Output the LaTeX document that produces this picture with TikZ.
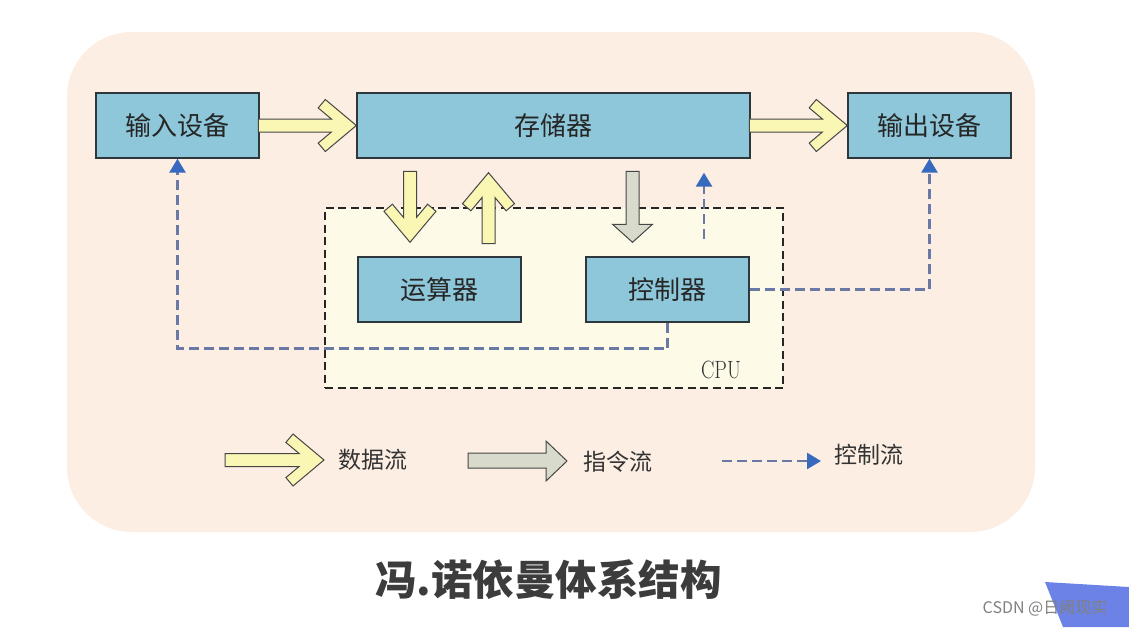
\documentclass[tikz,border=0pt]{standalone}
\usepackage{fontspec}
\usetikzlibrary{arrows.meta,calc}
\newfontfamily\cjk{Noto Sans CJK SC}
\definecolor{bgpeach}{RGB}{252,238,227}
\definecolor{cpufill}{RGB}{253,251,231}
\definecolor{boxfill}{RGB}{141,199,217}
\definecolor{boxline}{RGB}{45,55,60}
\definecolor{datafill}{RGB}{250,246,180}
\definecolor{instrfill}{RGB}{216,218,203}
\definecolor{arrline}{RGB}{70,70,70}
\definecolor{ctrlline}{RGB}{105,120,165}
\definecolor{ctrlhead}{RGB}{55,105,190}
\definecolor{titlecol}{RGB}{60,60,60}
\definecolor{wmblue}{RGB}{108,130,230}
\newcommand\dataarrow[3]{%
  \draw[dataflow, shift={(#1)}, rotate=#2] (-#3,-6.5) -- (-24.9,-6.5) -- (-38.1,-17.6) -- (-31,-26) -- (0,0)
    -- (-31,26) -- (-38.1,17.6) -- (-24.9,6.5) -- (-#3,6.5) -- cycle;}
\newcommand\instrarrow[3]{%
  \draw[instrflow, shift={(#1)}, rotate=#2] (-#3,-6.5) -- (-18,-6.5) -- (-18,-20) -- (0,0)
    -- (-18,20) -- (-18,6.5) -- (-#3,6.5) -- cycle;}
\begin{document}
\begin{tikzpicture}[x=1pt,y=-1pt,
  box/.style={draw=boxline, line width=1.4pt, fill=boxfill, minimum height=65pt, inner sep=0pt,
    font=\cjk\fontsize{26}{26}\selectfont, text=black!85},
  dataflow/.style={draw=arrline, line width=1pt, fill=datafill, line join=miter},
  instrflow/.style={draw=arrline, line width=1pt, fill=instrfill, line join=miter},
  ctrl/.style={draw=ctrlline, line width=2.7pt, dash pattern=on 10pt off 5pt,
    -{Triangle[length=14pt,width=16pt,color=ctrlhead]}},
  lgd/.style={font=\cjk\fontsize{23}{23}\selectfont, text=black!80, inner sep=0pt}]
\useasboundingbox (0,0) rectangle (1129,627);
\fill[white] (0,0) rectangle (1129,627);
\fill[bgpeach, rounded corners=65pt] (67,32) rectangle (1035,532);
% CPU container
\node[draw=black!85, line width=1.2pt, dash pattern=on 8pt off 4.5pt, fill=cpufill,
  minimum width=458pt, minimum height=180pt, inner sep=0pt] (cpu) at (554,298) {};
\node[inner sep=0pt, font=\fontsize{25}{25}\selectfont, text=black!80] (cpulbl) at (721,370) {\scalebox{0.8}[1]{CPU}};
% boxes
\node[box, minimum width=163pt] (in)  at (177.5,125.5) {输入设备};
\node[box, minimum width=393pt] (mem) at (553.5,125.5) {存储器};
\node[box, minimum width=163pt] (out) at (929.5,125.5) {输出设备};
\node[box, minimum width=163pt] (alu) at (439.5,289.5) {运算器};
\node[box, minimum width=163pt] (ctl) at (667.5,289.5) {控制器};
% data flow
\dataarrow{mem.west}{0}{98}
\dataarrow{out.west}{0}{98}
\coordinate (dd) at ($(alu.north)+(-29.5,-14)$);
\coordinate (du) at ($(mem.south)+(-65,14)$);
\coordinate (id) at ($(ctl.north)+(-35,-14)$);
\dataarrow{dd}{-90}{71}
\dataarrow{du}{90}{71}
\instrarrow{id}{-90}{71}
% control flow
\coordinate (cu1) at ($(mem.south)+(150.5,80)$);
\coordinate (cu2) at ($(mem.south)+(150.5,14)$);
\draw[ctrl] (cu1) -- (cu2);
\coordinate (c1) at ($(ctl.south)+(0,26)$);
\draw[ctrl] (ctl.south) -- (c1) -| (in.south);
\draw[ctrl] (ctl.east) -| (out.south);
% legend
\coordinate (ld) at (324,460);
\dataarrow{ld}{0}{99}
\node[lgd] (ldt) at (372.5,460) {数据流};
\draw[instrflow] (468,453) -- (546,453) -- (546,441) -- (567,461) -- (546,481) -- (546,468) -- (468,468) -- cycle;
\node[lgd] (lit) at (617.5,462) {指令流};
\coordinate (lc1) at (722,461);
\coordinate (lc2) at (821,461);
\draw[ctrl] (lc1) -- (lc2);
\node[lgd] (lct) at (868.5,455) {控制流};
% title
\node[inner sep=0pt, font=\cjk\bfseries\fontsize{41.5}{41.5}\selectfont, text=titlecol] (title) at (548.5,580) {冯.诺依曼体系结构};
% watermark
\fill[wmblue] (1045,582) -- (1129,587) -- (1129,627) -- (1063,627) -- cycle;
\node[inner sep=0pt, font=\cjk\fontsize{16}{16}\selectfont, text=black!50] (wm) at (1045,608) {CSDN @日阙现实};
\end{tikzpicture}
\end{document}
